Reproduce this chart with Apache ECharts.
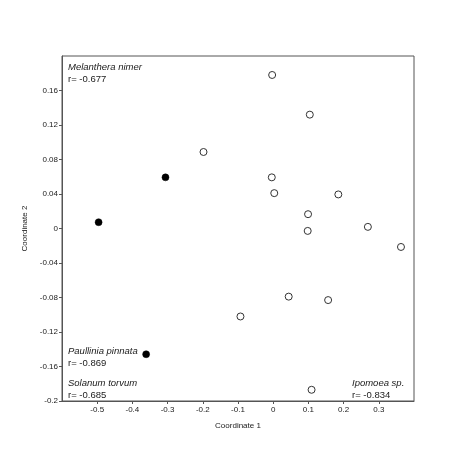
<!DOCTYPE html>
<html>
<head>
<meta charset="utf-8">
<script src="https://cdn.jsdelivr.net/npm/echarts@6/dist/echarts.min.js"></script>
<style>
html,body{margin:0;padding:0;background:#fff;}
#chart{width:474px;height:474px;}
</style>
</head>
<body>
<div id="chart"></div>
<script>
// Filled points (species with significant correlation)
const filledX = [-0.496, -0.306, -0.361];
const filledY = [0.0073, 0.0593, -0.1458];
// Open points
const openX = [-0.198, -0.003, 0.104, -0.004, 0.003, 0.185, 0.099, 0.098, 0.269, 0.363, -0.093, 0.044, 0.156, 0.109];
const openY = [0.0887, 0.178, 0.132, 0.0593, 0.041, 0.0395, 0.0166, -0.0028, 0.0019, -0.0214, -0.102, -0.079, -0.083, -0.187];
// Annotations
const speciesNames = ['Melanthera nimer', 'Paullinia pinnata', 'Solanum torvum', 'Ipomoea sp.'];
const speciesR = ['r= -0.677', 'r= -0.869', 'r= -0.685', 'r= -0.834'];
const xAxisTitle = 'Coordinate 1';
const yAxisTitle = 'Coordinate 2';

const FONT = '"Liberation Sans", Arial, sans-serif';
const annotPos = [[68, 67], [68, 351], [68, 383], [352, 383]];

const chart = echarts.init(document.getElementById('chart'));
const fmt = v => { const r = parseFloat(Number(v).toFixed(2)); return r === 0 ? '0' : String(r); };

const graphics = [];
speciesNames.forEach((n, i) => {
  graphics.push({type:'text', x: annotPos[i][0], y: annotPos[i][1], silent:true,
    style:{text:n, fill:'#1a1a1a', font:'italic 9.5px ' + FONT, textVerticalAlign:'middle', verticalAlign:'middle'}});
  graphics.push({type:'text', x: annotPos[i][0], y: annotPos[i][1] + 12, silent:true,
    style:{text:speciesR[i], fill:'#1a1a1a', font:'9.5px ' + FONT, textVerticalAlign:'middle', verticalAlign:'middle'}});
});

chart.setOption({
  animation:false,
  backgroundColor:'#fff',
  grid:{left:62, top:56, right:60, bottom:73, show:true, borderColor:'#555', borderWidth:1, backgroundColor:'transparent'},
  xAxis:{
    type:'value', min:-0.6, max:0.4, interval:0.1,
    name:xAxisTitle, nameLocation:'middle', nameGap:21,
    nameTextStyle:{fontFamily:FONT, fontSize:8, color:'#1a1a1a'},
    axisLine:{show:true, onZero:false, lineStyle:{color:'#555', width:1}},
    axisTick:{show:true, length:3, lineStyle:{color:'#555'}},
    axisLabel:{showMinLabel:false, showMaxLabel:false, fontFamily:FONT, fontSize:8, color:'#1a1a1a', margin:5, formatter:fmt},
    splitLine:{show:false}
  },
  yAxis:{
    type:'value', min:-0.2, max:0.2, interval:0.04,
    name:yAxisTitle, nameLocation:'middle', nameGap:31, nameRotate:90,
    nameTextStyle:{fontFamily:FONT, fontSize:8, color:'#1a1a1a'},
    axisLine:{show:true, onZero:false, lineStyle:{color:'#555', width:1}},
    axisTick:{show:true, length:3, lineStyle:{color:'#555'}},
    axisLabel:{showMaxLabel:false, fontFamily:FONT, fontSize:8, color:'#1a1a1a', margin:4, formatter:fmt},
    splitLine:{show:false}
  },
  series:[
    {type:'scatter', symbol:'circle', symbolSize:7,
     data: openX.map((x,i)=>[x, openY[i]]),
     itemStyle:{color:'#fff', borderColor:'#333', borderWidth:1, opacity:1}},
    {type:'scatter', symbol:'circle', symbolSize:7,
     data: filledX.map((x,i)=>[x, filledY[i]]),
     itemStyle:{color:'#000', borderColor:'#000', borderWidth:0.5, opacity:1}}
  ],
  graphic: graphics
});
</script>
</body>
</html>
